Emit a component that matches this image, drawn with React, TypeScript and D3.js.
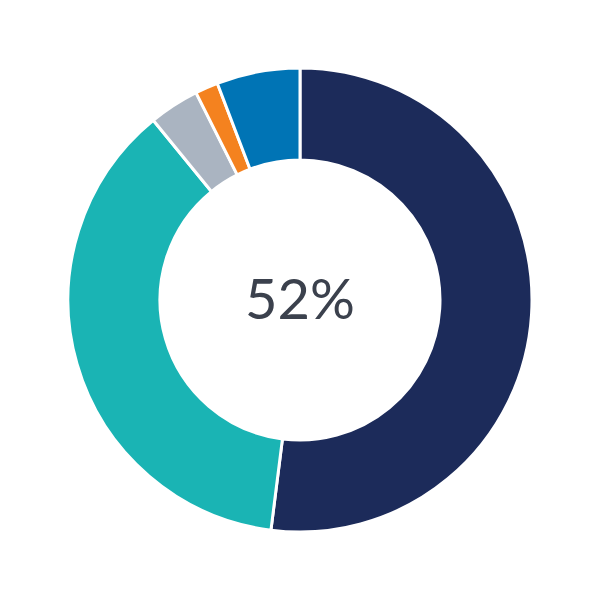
import React from "react";
import * as d3 from "d3";

const categories = ["A", "B", "C", "D", "E"];
const values = [52, 37.1, 3.5, 1.6, 5.8];
const colors = ["#1c2b5a", "#1ab4b4", "#aab4c1", "#f4821f", "#0074b5"];
const centerLabel = "52%";

export default function App() {
  const width = 600, height = 600;
  const cx = 300, cy = 300;
  const outer = 232, inner = 140;
  const pie = d3.pie<number>().sort(null).value((d) => d);
  const arcs = pie(values);
  const arc = d3.arc<d3.PieArcDatum<number>>().innerRadius(inner).outerRadius(outer);
  return (
    <svg width={width} height={height} style={{ position: "absolute", left: 0, top: 0 }}>
      <rect width={width} height={height} fill="#fff" />
      <g transform={`translate(${cx},${cy})`}>
        {arcs.map((a, i) => (
          <path key={categories[i]} d={arc(a) || ""} fill={colors[i]} stroke="#fff" strokeWidth={3} strokeLinejoin="round" />
        ))}
        <text x={0} y={19} textAnchor="middle" fontFamily="Lato" fontWeight={400} fontSize={56} fill="#3b414d">
          {centerLabel}
        </text>
      </g>
    </svg>
  );
}
